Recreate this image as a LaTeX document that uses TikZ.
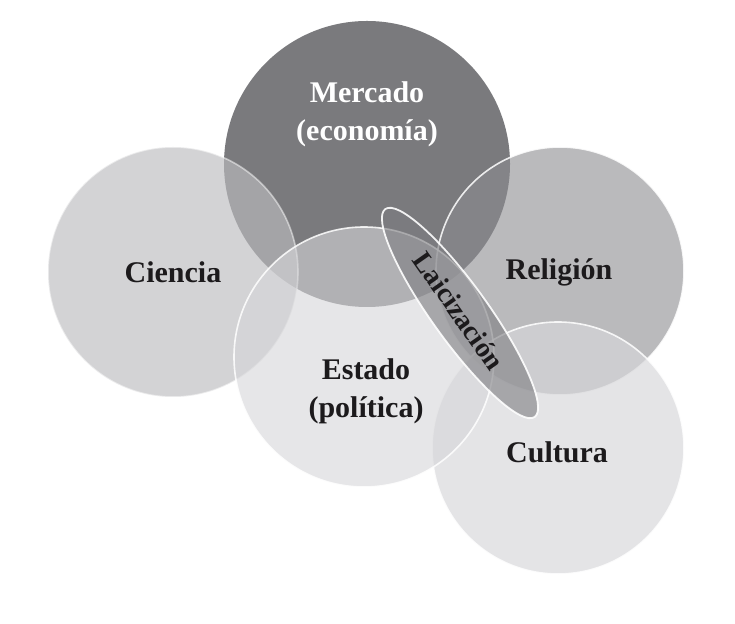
\documentclass[tikz,border=0pt]{standalone}
\usepackage{fontspec}
\setmainfont{Liberation Serif}
\definecolor{cMercado}{RGB}{122,122,125}
\definecolor{cCiencia}{RGB}{188,188,191}
\definecolor{cReligion}{RGB}{140,140,144}
\definecolor{cCultura}{RGB}{215,215,218}
\definecolor{cEstado}{RGB}{214,214,217}
\definecolor{cLaic}{RGB}{125,125,129}
\definecolor{ink}{RGB}{28,26,28}
\tikzset{
  disc/.style={fill=#1, fill opacity=0.65, draw=white, draw opacity=0.85, line width=1.6pt},
  lab/.style={font=\bfseries\fontsize{30}{38}\selectfont, text=ink, align=center},
}
\begin{document}
\begin{tikzpicture}[x=1pt,y=1pt]
\useasboundingbox (0,0) rectangle (735,623);
\fill[white] (0,0) rectangle (735,623);
% circles
\fill[cMercado] (367,459) circle[radius=143];
\path[disc=cCiencia, draw opacity=0.5] (173,351) circle[radius=125];
\path[disc=cReligion, fill opacity=0.6] (560,352) circle[radius=124];
\path[disc=cCultura, fill opacity=0.67] (558,175) circle[radius=126];
\path[disc=cEstado, fill opacity=0.6] (364,266) circle[radius=130];
% Laicizacion ellipse
\begin{scope}[shift={(460,310)}, rotate=-54.3]
  \path[fill=cLaic, fill opacity=0.6, draw=white, draw opacity=0.9, line width=1.8pt]
    (0,0) ellipse [x radius=128pt, y radius=28pt];
\end{scope}
% labels
\node[lab, text=white] (mercado) at (367,509) {Mercado\\(economía)};
\node[lab] (ciencia) at (173,351) {Ciencia};
\node[lab] (religion) at (559,351) {Religión};
\node[lab] (estado) at (366,232) {Estado\\(política)};
\node[lab] (cultura) at (557,171) {Cultura};
\node[lab, font=\bfseries\fontsize{28}{34}\selectfont, rotate=-55] (laic) at (459,312) {Laicización};
\end{tikzpicture}
\end{document}
